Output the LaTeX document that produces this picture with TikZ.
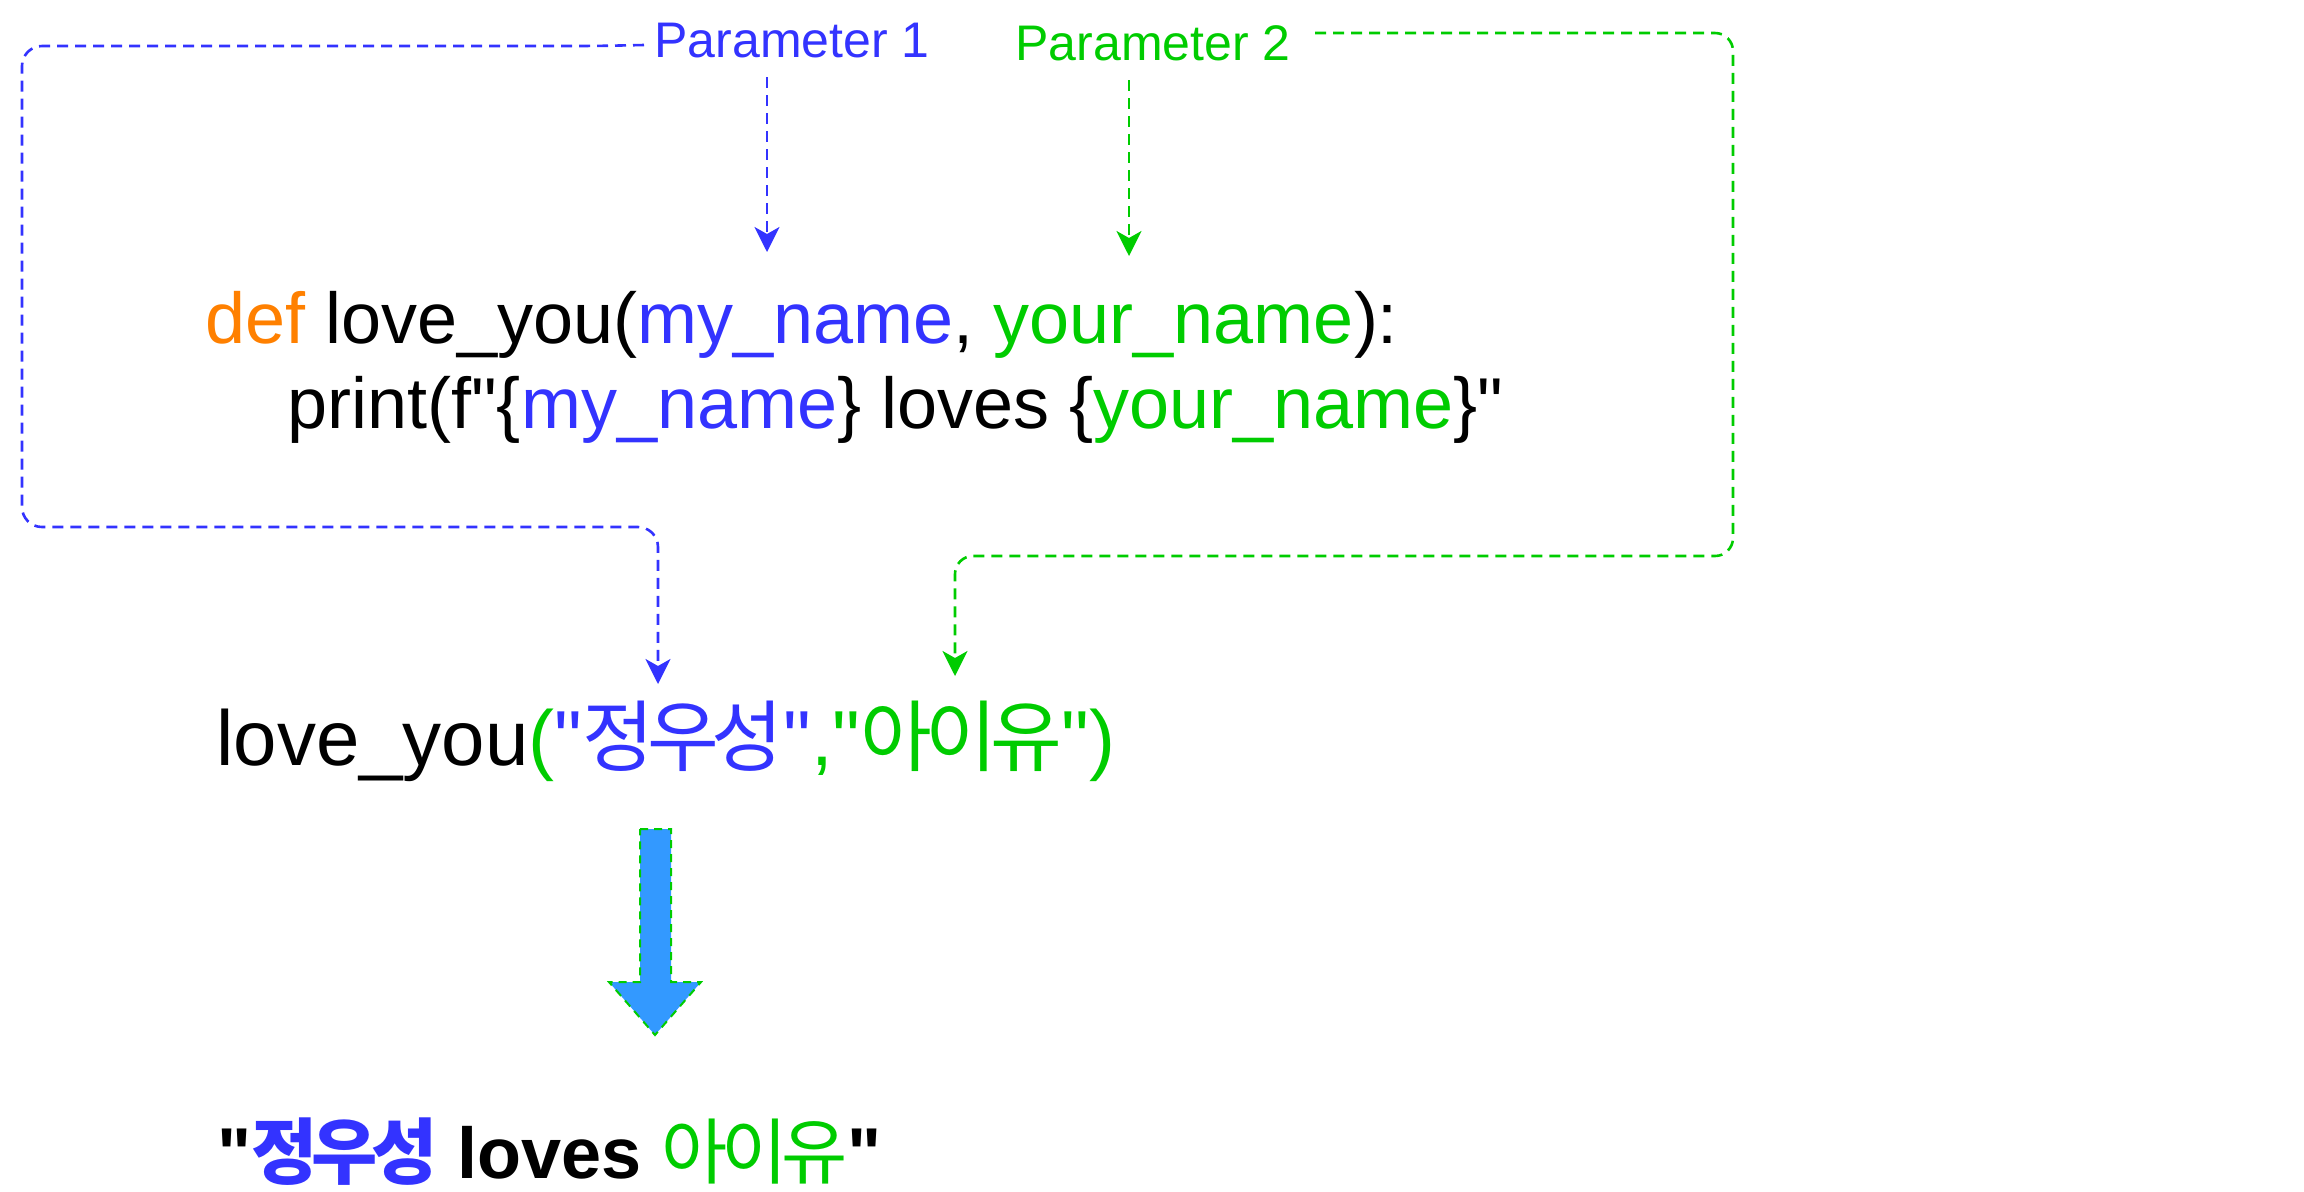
\documentclass[tikz,border=0pt]{standalone}
\usepackage{fontspec}
\setmainfont{Liberation Sans}[Ligatures=TeXOff]
\newfontfamily\kr[LetterSpace=-9, Ligatures=TeXOff]{Noto Sans CJK KR}
\usetikzlibrary{arrows.meta}
\definecolor{cblue}{HTML}{3333FF}
\definecolor{cgreen}{HTML}{00CC00}
\definecolor{corange}{HTML}{FF8000}
\definecolor{cfill}{HTML}{3399FF}
\tikzset{
  param/.style={font=\fontsize{25}{30}\selectfont, inner xsep=5pt, inner ysep=4pt,
    text height=18pt, text depth=6pt, anchor=base west},
  code/.style={font=\fontsize{36}{42}\selectfont, inner sep=0pt, anchor=base west},
  codebig/.style={font=\fontsize{39}{45}\selectfont, inner sep=0pt, anchor=base west},
  link/.style={line width=1.3pt, dash pattern=on 5.5pt off 3.5pt,
    -{Stealth[length=12.5pt, width=12.5pt, inset=3.5pt]}},
  bigarrow/.style={line width=1pt, draw=cgreen, fill=cfill, dash pattern=on 4pt off 3pt}
}
\begin{document}
\begin{tikzpicture}[x=0.5pt, y=-0.5pt]
\useasboundingbox (0,0) rectangle (2304,1191);

% labels
\node[param, text=cblue] (P1) at (644,57) {Parameter 1};
\node[param, text=cgreen] (P2) at (1005,60) {Parameter 2};

% code
\node[code] (l1) at (205,343) {\textcolor{corange}{def} love\_you(\textcolor{cblue}{my\_name}, \textcolor{cgreen}{your\_name}):};
\node[code] (l2) at (287,428) {print(f"\{\textcolor{cblue}{my\_name}\} loves \{\textcolor{cgreen}{your\_name}\}"};
\node[codebig] (l3) at (216,765) {love\_you\textcolor{cgreen}{(}\textcolor{cblue}{"{\kr 정우성}"}\textcolor{cgreen}{,"{\kr 아이유}")}};
\node[code, font=\fontsize{36}{42}\selectfont\bfseries] (res) at (217,1178) {"\textcolor{cblue}{\kr 정우성} loves \textcolor{cgreen}{\mdseries\kr 아이유}"};

% coordinates
\coordinate (a1) at (767,252);
\coordinate (a2) at (1129,256);
\coordinate (g0) at (1315,33);
\coordinate (b1) at (658,684);
\coordinate (g1) at (955,676);

% straight arrows
\draw[link, cblue] (P1.south -| a1) -- (a1);
\draw[link, cgreen] (P2.south -| a2) -- (a2);

% loops
\draw[link, cblue, rounded corners=10pt] (P1.west) -- (595,46) -- (22,46) -- (22,527) -- (658,527) -- (b1);
\draw[link, cgreen, rounded corners=9pt] (g0) -- (1733,33) -- (1733,556) -- (955,556) -- (g1);

% big arrow
\draw[bigarrow] (640,829) -- (671,829) -- (671,982) -- (701,982) -- (655,1035) -- (609,982) -- (640,982) -- cycle;
\end{tikzpicture}
\end{document}
